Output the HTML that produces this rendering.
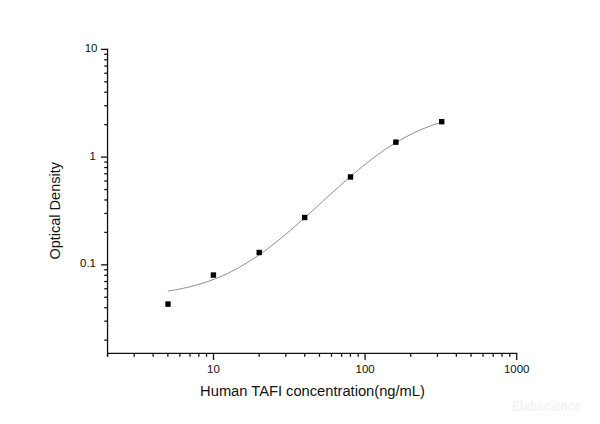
<!DOCTYPE html>
<html><head><meta charset="utf-8"><title>Chart</title>
<style>
html,body{margin:0;padding:0;background:#fff;}
body{width:600px;height:424px;overflow:hidden;font-family:"Liberation Sans",sans-serif;}
svg{display:block;}
text{font-family:"Liberation Sans",sans-serif;fill:#111;}
.b{stroke:#111;stroke-width:0.25px;}
</style></head><body>
<svg width="600" height="424" viewBox="0 0 600 424">
<rect width="600" height="424" fill="#fff"/>
<g stroke="#111" stroke-width="1.3" fill="none" stroke-linecap="butt">
<line x1="107.55" y1="48.70" x2="107.55" y2="356.75"/>
<line x1="107.55" y1="353.45" x2="517.35" y2="353.45"/>
<line x1="107.54" y1="353.45" x2="107.54" y2="356.75"/>
<line x1="134.23" y1="353.45" x2="134.23" y2="356.75"/>
<line x1="153.17" y1="353.45" x2="153.17" y2="356.75"/>
<line x1="167.86" y1="353.45" x2="167.86" y2="356.75"/>
<line x1="179.87" y1="353.45" x2="179.87" y2="356.75"/>
<line x1="190.02" y1="353.45" x2="190.02" y2="356.75"/>
<line x1="198.81" y1="353.45" x2="198.81" y2="356.75"/>
<line x1="206.56" y1="353.45" x2="206.56" y2="356.75"/>
<line x1="213.50" y1="353.45" x2="213.50" y2="359.95"/>
<line x1="259.14" y1="353.45" x2="259.14" y2="356.75"/>
<line x1="285.83" y1="353.45" x2="285.83" y2="356.75"/>
<line x1="304.77" y1="353.45" x2="304.77" y2="356.75"/>
<line x1="319.46" y1="353.45" x2="319.46" y2="356.75"/>
<line x1="331.47" y1="353.45" x2="331.47" y2="356.75"/>
<line x1="341.62" y1="353.45" x2="341.62" y2="356.75"/>
<line x1="350.41" y1="353.45" x2="350.41" y2="356.75"/>
<line x1="358.16" y1="353.45" x2="358.16" y2="356.75"/>
<line x1="365.10" y1="353.45" x2="365.10" y2="359.95"/>
<line x1="410.74" y1="353.45" x2="410.74" y2="356.75"/>
<line x1="437.43" y1="353.45" x2="437.43" y2="356.75"/>
<line x1="456.37" y1="353.45" x2="456.37" y2="356.75"/>
<line x1="471.06" y1="353.45" x2="471.06" y2="356.75"/>
<line x1="483.07" y1="353.45" x2="483.07" y2="356.75"/>
<line x1="493.22" y1="353.45" x2="493.22" y2="356.75"/>
<line x1="502.01" y1="353.45" x2="502.01" y2="356.75"/>
<line x1="509.76" y1="353.45" x2="509.76" y2="356.75"/>
<line x1="516.70" y1="353.45" x2="516.70" y2="359.95"/>
<line x1="107.55" y1="340.16" x2="104.25" y2="340.16"/>
<line x1="107.55" y1="321.19" x2="104.25" y2="321.19"/>
<line x1="107.55" y1="307.73" x2="104.25" y2="307.73"/>
<line x1="107.55" y1="297.29" x2="104.25" y2="297.29"/>
<line x1="107.55" y1="288.75" x2="104.25" y2="288.75"/>
<line x1="107.55" y1="281.54" x2="104.25" y2="281.54"/>
<line x1="107.55" y1="275.29" x2="104.25" y2="275.29"/>
<line x1="107.55" y1="269.78" x2="104.25" y2="269.78"/>
<line x1="107.55" y1="264.85" x2="101.05" y2="264.85"/>
<line x1="107.55" y1="232.41" x2="104.25" y2="232.41"/>
<line x1="107.55" y1="213.44" x2="104.25" y2="213.44"/>
<line x1="107.55" y1="199.98" x2="104.25" y2="199.98"/>
<line x1="107.55" y1="189.54" x2="104.25" y2="189.54"/>
<line x1="107.55" y1="181.00" x2="104.25" y2="181.00"/>
<line x1="107.55" y1="173.79" x2="104.25" y2="173.79"/>
<line x1="107.55" y1="167.54" x2="104.25" y2="167.54"/>
<line x1="107.55" y1="162.03" x2="104.25" y2="162.03"/>
<line x1="107.55" y1="157.10" x2="101.05" y2="157.10"/>
<line x1="107.55" y1="124.66" x2="104.25" y2="124.66"/>
<line x1="107.55" y1="105.69" x2="104.25" y2="105.69"/>
<line x1="107.55" y1="92.23" x2="104.25" y2="92.23"/>
<line x1="107.55" y1="81.79" x2="104.25" y2="81.79"/>
<line x1="107.55" y1="73.25" x2="104.25" y2="73.25"/>
<line x1="107.55" y1="66.04" x2="104.25" y2="66.04"/>
<line x1="107.55" y1="59.79" x2="104.25" y2="59.79"/>
<line x1="107.55" y1="54.28" x2="104.25" y2="54.28"/>
<line x1="107.55" y1="49.35" x2="101.05" y2="49.35"/>
</g>
<path d="M167.86,291.10 L171.83,290.46 L175.80,289.77 L179.77,289.01 L183.74,288.18 L187.71,287.29 L191.67,286.32 L195.64,285.27 L199.61,284.13 L203.58,282.91 L207.55,281.60 L211.52,280.19 L215.48,278.68 L219.45,277.06 L223.42,275.34 L227.39,273.51 L231.36,271.57 L235.33,269.52 L239.29,267.36 L243.26,265.08 L247.23,262.70 L251.20,260.20 L255.17,257.59 L259.14,254.88 L263.10,252.07 L267.07,249.16 L271.04,246.16 L275.01,243.06 L278.98,239.89 L282.95,236.64 L286.91,233.32 L290.88,229.94 L294.85,226.49 L298.82,223.00 L302.79,219.47 L306.76,215.91 L310.72,212.31 L314.69,208.70 L318.66,205.07 L322.63,201.44 L326.60,197.82 L330.57,194.20 L334.53,190.61 L338.50,187.04 L342.47,183.50 L346.44,180.01 L350.41,176.57 L354.38,173.18 L358.35,169.85 L362.31,166.60 L366.28,163.42 L370.25,160.32 L374.22,157.31 L378.19,154.40 L382.16,151.58 L386.12,148.86 L390.09,146.25 L394.06,143.74 L398.03,141.35 L402.00,139.07 L405.97,136.90 L409.93,134.84 L413.90,132.89 L417.87,131.06 L421.84,129.33 L425.81,127.71 L429.78,126.19 L433.74,124.77 L437.71,123.45 L441.68,122.22" fill="none" stroke="#8e8e8e" stroke-width="1"/>
<rect x="165.30" y="301.40" width="5.4" height="5.4" fill="#000"/>
<rect x="210.70" y="272.35" width="5.4" height="5.4" fill="#000"/>
<rect x="256.50" y="249.80" width="5.4" height="5.4" fill="#000"/>
<rect x="302.00" y="214.80" width="5.4" height="5.4" fill="#000"/>
<rect x="347.80" y="174.25" width="5.4" height="5.4" fill="#000"/>
<rect x="393.20" y="139.45" width="5.4" height="5.4" fill="#000"/>
<rect x="439.00" y="119.00" width="5.4" height="5.4" fill="#000"/>
<g font-size="11.5px" text-anchor="end">
<text x="97.5" y="51.95">10</text>
<text x="96.0" y="159.70">1</text>
<text x="96.0" y="267.45">0.1</text>
</g>
<g font-size="11.5px" text-anchor="middle">
<text x="213.50" y="372.9">10</text>
<text x="365.10" y="372.9">100</text>
<text x="516.70" y="372.9">1000</text>
</g>
<text font-size="14.7px" text-anchor="middle" x="312.5" y="396.2">Human TAFI concentration(ng/mL)</text>
<text font-size="14.5px" text-anchor="middle" transform="translate(60.1,210.8) rotate(-90)">Optical Density</text>
<text font-size="15px" font-weight="bold" x="512" y="410.6" textLength="69" lengthAdjust="spacingAndGlyphs" style="fill:#f3f3f3">Elabscience</text>
<text font-size="5px" font-weight="bold" x="581" y="403.5" style="fill:#f3f3f3">®</text>
</svg>
</body></html>
